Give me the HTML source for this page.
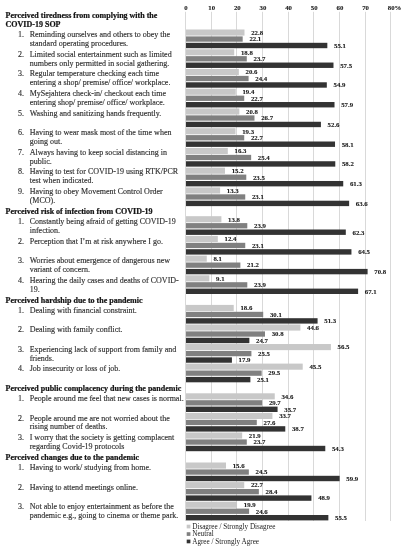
<!DOCTYPE html>
<html><head><meta charset="utf-8"><style>
html,body{margin:0;padding:0;background:#fff;}
body{width:404px;height:550px;overflow:hidden;position:relative;}
svg{position:absolute;left:0;top:0;}
.t{font-family:"Liberation Serif",serif;font-size:8.0px;fill:#2e2e2e;stroke:#2e2e2e;stroke-width:0.14px;}
.h{font-family:"Liberation Serif",serif;font-size:8.0px;font-weight:bold;fill:#141414;stroke:#141414;stroke-width:0.22px;}
.l{font-family:"Liberation Serif",serif;font-size:6.8px;font-weight:bold;fill:#1a1a1a;stroke:#1a1a1a;stroke-width:0.12px;}
.a{font-family:"Liberation Serif",serif;font-size:6.8px;font-weight:bold;fill:#1a1a1a;stroke:#1a1a1a;stroke-width:0.12px;}
.g{font-family:"Liberation Serif",serif;font-size:7.2px;fill:#1a1a1a;}
</style></head><body>
<svg width="404" height="550" viewBox="0 0 404 550">

<rect x="185" y="11.8" width="1" height="509.2" fill="#d9d9d9"/>
<text class="a" x="186.00" y="10.4" text-anchor="middle">0</text>
<rect x="211" y="11.8" width="1" height="509.2" fill="#d9d9d9"/>
<text class="a" x="211.65" y="10.4" text-anchor="middle">10</text>
<rect x="236" y="11.8" width="1" height="509.2" fill="#d9d9d9"/>
<text class="a" x="237.30" y="10.4" text-anchor="middle">20</text>
<rect x="262" y="11.8" width="1" height="509.2" fill="#d9d9d9"/>
<text class="a" x="262.95" y="10.4" text-anchor="middle">30</text>
<rect x="288" y="11.8" width="1" height="509.2" fill="#d9d9d9"/>
<text class="a" x="288.60" y="10.4" text-anchor="middle">40</text>
<rect x="313" y="11.8" width="1" height="509.2" fill="#d9d9d9"/>
<text class="a" x="314.25" y="10.4" text-anchor="middle">50</text>
<rect x="339" y="11.8" width="1" height="509.2" fill="#d9d9d9"/>
<text class="a" x="339.90" y="10.4" text-anchor="middle">60</text>
<rect x="365" y="11.8" width="1" height="509.2" fill="#d9d9d9"/>
<text class="a" x="365.55" y="10.4" text-anchor="middle">70</text>
<rect x="390" y="11.8" width="1" height="509.2" fill="#d9d9d9"/>
<text class="a" x="387.80" y="10.4">80%</text>
<text class="h" x="5.6" y="18.3">Perceived tiredness from complying with the</text>
<text class="h" x="5.6" y="27.2">COVID-19 SOP</text>
<text class="t" x="18.1" y="37.20">1.</text>
<text class="t" x="29.7" y="37.20">Reminding ourselves and others to obey the</text>
<text class="t" x="29.7" y="46.00">standard operating procedures.</text>
<rect x="186.00" y="29.50" width="58.48" height="6.10" fill="#c8c8c8"/>
<text class="l" x="251.18" y="34.85">22.8</text>
<rect x="186.00" y="36.40" width="56.69" height="5.30" fill="#808080"/>
<text class="l" x="249.39" y="41.35">22.1</text>
<rect x="186.00" y="42.80" width="141.33" height="5.40" fill="#333333"/>
<text class="l" x="334.03" y="47.80">55.1</text>
<text class="t" x="18.1" y="56.81">2.</text>
<text class="t" x="29.7" y="56.81">Limited social entertainment such as limited</text>
<text class="t" x="29.7" y="65.61">numbers only permitted in social gathering.</text>
<rect x="186.00" y="49.24" width="48.22" height="6.10" fill="#c8c8c8"/>
<text class="l" x="240.92" y="54.59">18.8</text>
<rect x="186.00" y="56.14" width="60.79" height="5.30" fill="#808080"/>
<text class="l" x="253.49" y="61.09">23.7</text>
<rect x="186.00" y="62.54" width="147.49" height="5.40" fill="#333333"/>
<text class="l" x="340.19" y="67.54">57.5</text>
<text class="t" x="18.1" y="76.42">3.</text>
<text class="t" x="29.7" y="76.42">Regular temperature checking each time</text>
<text class="t" x="29.7" y="85.22">entering a shop/ premise/ office/ workplace.</text>
<rect x="186.00" y="68.98" width="52.84" height="6.10" fill="#c8c8c8"/>
<text class="l" x="245.54" y="74.33">20.6</text>
<rect x="186.00" y="75.88" width="62.59" height="5.30" fill="#808080"/>
<text class="l" x="255.29" y="80.83">24.4</text>
<rect x="186.00" y="82.28" width="140.82" height="5.40" fill="#333333"/>
<text class="l" x="333.52" y="87.28">54.9</text>
<text class="t" x="18.1" y="96.03">4.</text>
<text class="t" x="29.7" y="96.03">MySejahtera check-in/ checkout each time</text>
<text class="t" x="29.7" y="104.83">entering shop/ premise/ office/ workplace.</text>
<rect x="186.00" y="88.72" width="49.76" height="6.10" fill="#c8c8c8"/>
<text class="l" x="242.46" y="94.07">19.4</text>
<rect x="186.00" y="95.62" width="58.23" height="5.30" fill="#808080"/>
<text class="l" x="250.93" y="100.57">22.7</text>
<rect x="186.00" y="102.02" width="148.51" height="5.40" fill="#333333"/>
<text class="l" x="341.21" y="107.02">57.9</text>
<text class="t" x="18.1" y="115.64">5.</text>
<text class="t" x="29.7" y="115.64">Washing and sanitizing hands frequently.</text>
<rect x="186.00" y="108.46" width="53.35" height="6.10" fill="#c8c8c8"/>
<text class="l" x="246.05" y="113.81">20.8</text>
<rect x="186.00" y="115.36" width="68.49" height="5.30" fill="#808080"/>
<text class="l" x="261.19" y="120.31">26.7</text>
<rect x="186.00" y="121.76" width="134.92" height="5.40" fill="#333333"/>
<text class="l" x="327.62" y="126.76">52.6</text>
<text class="t" x="18.1" y="135.25">6.</text>
<text class="t" x="29.7" y="135.25">Having to wear mask most of the time when</text>
<text class="t" x="29.7" y="144.05">going out.</text>
<rect x="186.00" y="128.20" width="49.50" height="6.10" fill="#c8c8c8"/>
<text class="l" x="242.20" y="133.55">19.3</text>
<rect x="186.00" y="135.10" width="58.23" height="5.30" fill="#808080"/>
<text class="l" x="250.93" y="140.05">22.7</text>
<rect x="186.00" y="141.50" width="149.03" height="5.40" fill="#333333"/>
<text class="l" x="341.73" y="146.50">58.1</text>
<text class="t" x="18.1" y="154.86">7.</text>
<text class="t" x="29.7" y="154.86">Always having to keep social distancing in</text>
<text class="t" x="29.7" y="163.66">public.</text>
<rect x="186.00" y="147.94" width="41.81" height="6.10" fill="#c8c8c8"/>
<text class="l" x="234.51" y="153.29">16.3</text>
<rect x="186.00" y="154.84" width="65.15" height="5.30" fill="#808080"/>
<text class="l" x="257.85" y="159.79">25.4</text>
<rect x="186.00" y="161.24" width="149.28" height="5.40" fill="#333333"/>
<text class="l" x="341.98" y="166.24">58.2</text>
<text class="t" x="18.1" y="174.47">8.</text>
<text class="t" x="29.7" y="174.47">Having to test for COVID-19 using RTK/PCR</text>
<text class="t" x="29.7" y="183.27">test when indicated.</text>
<rect x="186.00" y="167.68" width="38.99" height="6.10" fill="#c8c8c8"/>
<text class="l" x="231.69" y="173.03">15.2</text>
<rect x="186.00" y="174.58" width="60.28" height="5.30" fill="#808080"/>
<text class="l" x="252.98" y="179.53">23.5</text>
<rect x="186.00" y="180.98" width="157.23" height="5.40" fill="#333333"/>
<text class="l" x="349.93" y="185.98">61.3</text>
<text class="t" x="18.1" y="194.08">9.</text>
<text class="t" x="29.7" y="194.08">Having to obey Movement Control Order</text>
<text class="t" x="29.7" y="202.88">(MCO).</text>
<rect x="186.00" y="187.42" width="34.11" height="6.10" fill="#c8c8c8"/>
<text class="l" x="226.81" y="192.77">13.3</text>
<rect x="186.00" y="194.32" width="59.25" height="5.30" fill="#808080"/>
<text class="l" x="251.95" y="199.27">23.1</text>
<rect x="186.00" y="200.72" width="163.13" height="5.40" fill="#333333"/>
<text class="l" x="355.83" y="205.72">63.6</text>
<text class="h" x="5.6" y="214.0">Perceived risk of infection from COVID-19</text>
<text class="t" x="18.1" y="224.30">1.</text>
<text class="t" x="29.7" y="224.30">Constantly being afraid of getting COVID-19</text>
<text class="t" x="29.7" y="233.10">infection.</text>
<rect x="186.00" y="216.20" width="35.40" height="6.10" fill="#c8c8c8"/>
<text class="l" x="228.10" y="221.55">13.8</text>
<rect x="186.00" y="223.10" width="61.30" height="5.30" fill="#808080"/>
<text class="l" x="254.00" y="228.05">23.9</text>
<rect x="186.00" y="229.50" width="159.80" height="5.40" fill="#333333"/>
<text class="l" x="352.50" y="234.50">62.3</text>
<text class="t" x="18.1" y="243.77">2.</text>
<text class="t" x="29.7" y="243.77">Perception that I’m at risk anywhere I go.</text>
<rect x="186.00" y="235.90" width="31.81" height="6.10" fill="#c8c8c8"/>
<text class="l" x="224.51" y="241.25">12.4</text>
<rect x="186.00" y="242.80" width="59.25" height="5.30" fill="#808080"/>
<text class="l" x="251.95" y="247.75">23.1</text>
<rect x="186.00" y="249.20" width="165.44" height="5.40" fill="#333333"/>
<text class="l" x="358.14" y="254.20">64.5</text>
<text class="t" x="18.1" y="263.24">3.</text>
<text class="t" x="29.7" y="263.24">Worries about emergence of dangerous new</text>
<text class="t" x="29.7" y="272.04">variant of concern.</text>
<rect x="186.00" y="255.60" width="20.78" height="6.10" fill="#c8c8c8"/>
<text class="l" x="213.48" y="260.95">8.1</text>
<rect x="186.00" y="262.50" width="54.38" height="5.30" fill="#808080"/>
<text class="l" x="247.08" y="267.45">21.2</text>
<rect x="186.00" y="268.90" width="181.60" height="5.40" fill="#333333"/>
<text class="l" x="374.30" y="273.90">70.8</text>
<text class="t" x="18.1" y="282.71">4.</text>
<text class="t" x="29.7" y="282.71">Hearing the daily cases and deaths of COVID-</text>
<text class="t" x="29.7" y="291.51">19.</text>
<rect x="186.00" y="275.30" width="23.34" height="6.10" fill="#c8c8c8"/>
<text class="l" x="216.04" y="280.65">9.1</text>
<rect x="186.00" y="282.20" width="61.30" height="5.30" fill="#808080"/>
<text class="l" x="254.00" y="287.15">23.9</text>
<rect x="186.00" y="288.60" width="172.11" height="5.40" fill="#333333"/>
<text class="l" x="364.81" y="293.60">67.1</text>
<text class="h" x="5.6" y="302.9">Perceived hardship due to the pandemic</text>
<text class="t" x="18.1" y="313.00">1.</text>
<text class="t" x="29.7" y="313.00">Dealing with financial constraint.</text>
<rect x="186.00" y="304.90" width="47.71" height="6.10" fill="#c8c8c8"/>
<text class="l" x="240.41" y="310.25">18.6</text>
<rect x="186.00" y="311.80" width="77.21" height="5.30" fill="#808080"/>
<text class="l" x="269.91" y="316.75">30.1</text>
<rect x="186.00" y="318.20" width="131.58" height="5.40" fill="#333333"/>
<text class="l" x="324.28" y="323.20">51.3</text>
<text class="t" x="18.1" y="332.43">2.</text>
<text class="t" x="29.7" y="332.43">Dealing with family conflict.</text>
<rect x="186.00" y="324.47" width="114.40" height="6.10" fill="#c8c8c8"/>
<text class="l" x="307.10" y="329.82">44.6</text>
<rect x="186.00" y="331.37" width="79.00" height="5.30" fill="#808080"/>
<text class="l" x="271.70" y="336.32">30.8</text>
<rect x="186.00" y="337.77" width="63.36" height="5.40" fill="#333333"/>
<text class="l" x="256.06" y="342.77">24.7</text>
<text class="t" x="18.1" y="351.86">3.</text>
<text class="t" x="29.7" y="351.86">Experiencing lack of support from family and</text>
<text class="t" x="29.7" y="360.66">friends.</text>
<rect x="186.00" y="344.04" width="144.92" height="6.10" fill="#c8c8c8"/>
<text class="l" x="337.62" y="349.39">56.5</text>
<rect x="186.00" y="350.94" width="65.41" height="5.30" fill="#808080"/>
<text class="l" x="258.11" y="355.89">25.5</text>
<rect x="186.00" y="357.34" width="45.91" height="5.40" fill="#333333"/>
<text class="l" x="238.61" y="362.34">17.9</text>
<text class="t" x="18.1" y="371.29">4.</text>
<text class="t" x="29.7" y="371.29">Job insecurity or loss of job.</text>
<rect x="186.00" y="363.61" width="116.71" height="6.10" fill="#c8c8c8"/>
<text class="l" x="309.41" y="368.96">45.5</text>
<rect x="186.00" y="370.51" width="75.67" height="5.30" fill="#808080"/>
<text class="l" x="268.37" y="375.46">29.5</text>
<rect x="186.00" y="376.91" width="64.38" height="5.40" fill="#333333"/>
<text class="l" x="257.08" y="381.91">25.1</text>
<text class="h" x="5.6" y="391.0">Perceived public complacency during the pandemic</text>
<text class="t" x="18.1" y="400.70">1.</text>
<text class="t" x="29.7" y="400.70">People around me feel that new cases is normal.</text>
<rect x="186.00" y="393.30" width="88.75" height="6.10" fill="#c8c8c8"/>
<text class="l" x="281.45" y="398.65">34.6</text>
<rect x="186.00" y="400.20" width="76.18" height="5.30" fill="#808080"/>
<text class="l" x="268.88" y="405.15">29.7</text>
<rect x="186.00" y="406.60" width="91.57" height="5.40" fill="#333333"/>
<text class="l" x="284.27" y="411.60">35.7</text>
<text class="t" x="18.1" y="420.50">2.</text>
<text class="t" x="29.7" y="420.50">People around me are not worried about the</text>
<text class="t" x="29.7" y="429.30">rising number of deaths.</text>
<rect x="186.00" y="412.90" width="86.44" height="6.10" fill="#c8c8c8"/>
<text class="l" x="279.14" y="418.25">33.7</text>
<rect x="186.00" y="419.80" width="70.79" height="5.30" fill="#808080"/>
<text class="l" x="263.49" y="424.75">27.6</text>
<rect x="186.00" y="426.20" width="99.27" height="5.40" fill="#333333"/>
<text class="l" x="291.97" y="431.20">38.7</text>
<text class="t" x="18.1" y="440.30">3.</text>
<text class="t" x="29.7" y="440.30">I worry that the society is getting complacent</text>
<text class="t" x="29.7" y="449.10">regarding Covid-19 protocols</text>
<rect x="186.00" y="432.50" width="56.17" height="6.10" fill="#c8c8c8"/>
<text class="l" x="248.87" y="437.85">21.9</text>
<rect x="186.00" y="439.40" width="60.79" height="5.30" fill="#808080"/>
<text class="l" x="253.49" y="444.35">23.7</text>
<rect x="186.00" y="445.80" width="139.28" height="5.40" fill="#333333"/>
<text class="l" x="331.98" y="450.80">54.3</text>
<text class="h" x="5.6" y="460.1">Perceived changes due to the pandemic</text>
<text class="t" x="18.1" y="469.70">1.</text>
<text class="t" x="29.7" y="469.70">Having to work/ studying from home.</text>
<rect x="186.00" y="462.50" width="40.01" height="6.10" fill="#c8c8c8"/>
<text class="l" x="232.71" y="467.85">15.6</text>
<rect x="186.00" y="469.40" width="62.84" height="5.30" fill="#808080"/>
<text class="l" x="255.54" y="474.35">24.5</text>
<rect x="186.00" y="475.80" width="153.64" height="5.40" fill="#333333"/>
<text class="l" x="346.34" y="480.80">59.9</text>
<text class="t" x="18.1" y="489.50">2.</text>
<text class="t" x="29.7" y="489.50">Having to attend meetings online.</text>
<rect x="186.00" y="482.10" width="58.23" height="6.10" fill="#c8c8c8"/>
<text class="l" x="250.93" y="487.45">22.7</text>
<rect x="186.00" y="489.00" width="72.85" height="5.30" fill="#808080"/>
<text class="l" x="265.55" y="493.95">28.4</text>
<rect x="186.00" y="495.40" width="125.43" height="5.40" fill="#333333"/>
<text class="l" x="318.13" y="500.40">48.9</text>
<text class="t" x="18.1" y="509.30">3.</text>
<text class="t" x="29.7" y="509.30">Not able to enjoy entertainment as before the</text>
<text class="t" x="29.7" y="518.10">pandemic e.g., going to cinema or theme park.</text>
<rect x="186.00" y="501.70" width="51.04" height="6.10" fill="#c8c8c8"/>
<text class="l" x="243.74" y="507.05">19.9</text>
<rect x="186.00" y="508.60" width="63.10" height="5.30" fill="#808080"/>
<text class="l" x="255.80" y="513.55">24.6</text>
<rect x="186.00" y="515.00" width="142.36" height="5.40" fill="#333333"/>
<text class="l" x="335.06" y="520.00">55.5</text>
<rect x="186.7" y="524.70" width="3.7" height="3.7" fill="#c8c8c8"/>
<text class="g" x="192.2" y="528.7">Disagree / Strongly Disagree</text>
<rect x="186.7" y="532.20" width="3.7" height="3.7" fill="#808080"/>
<text class="g" x="192.2" y="536.2">Neutral</text>
<rect x="186.7" y="539.60" width="3.7" height="3.7" fill="#333333"/>
<text class="g" x="192.2" y="543.6">Agree / Strongly Agree</text>
</svg></body></html>
